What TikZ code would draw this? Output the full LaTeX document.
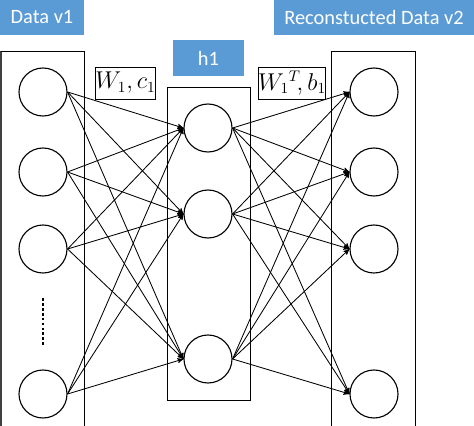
\documentclass[tikz,border=0pt]{standalone}
\usepackage{fontspec}
\setmainfont{Carlito}
\usepackage{amsmath,amssymb}
\usetikzlibrary{arrows}
\definecolor{hdrblue}{RGB}{91,155,213}
\tikzstyle{hdr} = [rectangle, fill=hdrblue, text=white, inner sep=0pt,
    font=\fontsize{14.5}{17}\selectfont, minimum height=0.875cm]
\tikzstyle{unit} = [circle, draw, thick, minimum size=1.2cm, inner sep=0pt]
\tikzstyle{wt} = [rectangle, draw, inner sep=0pt, minimum height=0.8cm,
    font=\fontsize{16}{18}\selectfont]

\begin{document}
\begin{tikzpicture}[x=0.025cm,y=-0.025cm,->,>=stealth',semithick]
  \useasboundingbox (0,0) rectangle (474,426);

  % layer frames
  \draw[-,line width=1.6pt,black!75] (1,426) -- (1,51);
  \draw[-] (1,51) -- (84,51) -- (84,426);
  \draw[-] (167,87) rectangle (250,400);
  \draw[-] (331,426) |- (415,51) -- (415,426);

  % headers
  \node[hdr,minimum width=2.1cm]   (dv1) at (42,17.5)   {Data v1};
  \node[hdr,minimum width=5cm]     (dv2) at (374,17.5)  {Reconstucted Data v2};
  \node[hdr,minimum width=1.775cm] (hh)  at (208.5,58)  {h1};

  % weights
  \node[wt,minimum width=1.375cm] (w1) at (125.5,83) {$W_1,c_1$};
  \node[wt,minimum width=1.5cm]   (w2) at (292,83)   {$W_1{}^T\!,b_1$};

  % units
  \node[unit] (v1) at (43,92)  {};
  \node[unit] (v2) at (43,172) {};
  \node[unit] (v3) at (43,249) {};
  \node[unit] (v4) at (43,394) {};
  \node[unit] (h1) at (208,128) {};
  \node[unit] (h2) at (208,214) {};
  \node[unit] (h3) at (208,359) {};
  \node[unit] (r1) at (374,92)  {};
  \node[unit] (r2) at (374,172) {};
  \node[unit] (r3) at (374,249) {};
  \node[unit] (r4) at (374,394) {};

  \draw[-,line width=2pt,dash pattern=on 2pt off 1.5pt] (43,298) -- (43,347);

  \foreach \i in {1,...,4}
    \foreach \j in {1,2,3}
      \draw (v\i.east) -- (h\j.west);
  \foreach \j in {1,2,3}
    \foreach \k in {1,...,4}
      \draw (h\j.east) -- (r\k.west);
\end{tikzpicture}
\end{document}
